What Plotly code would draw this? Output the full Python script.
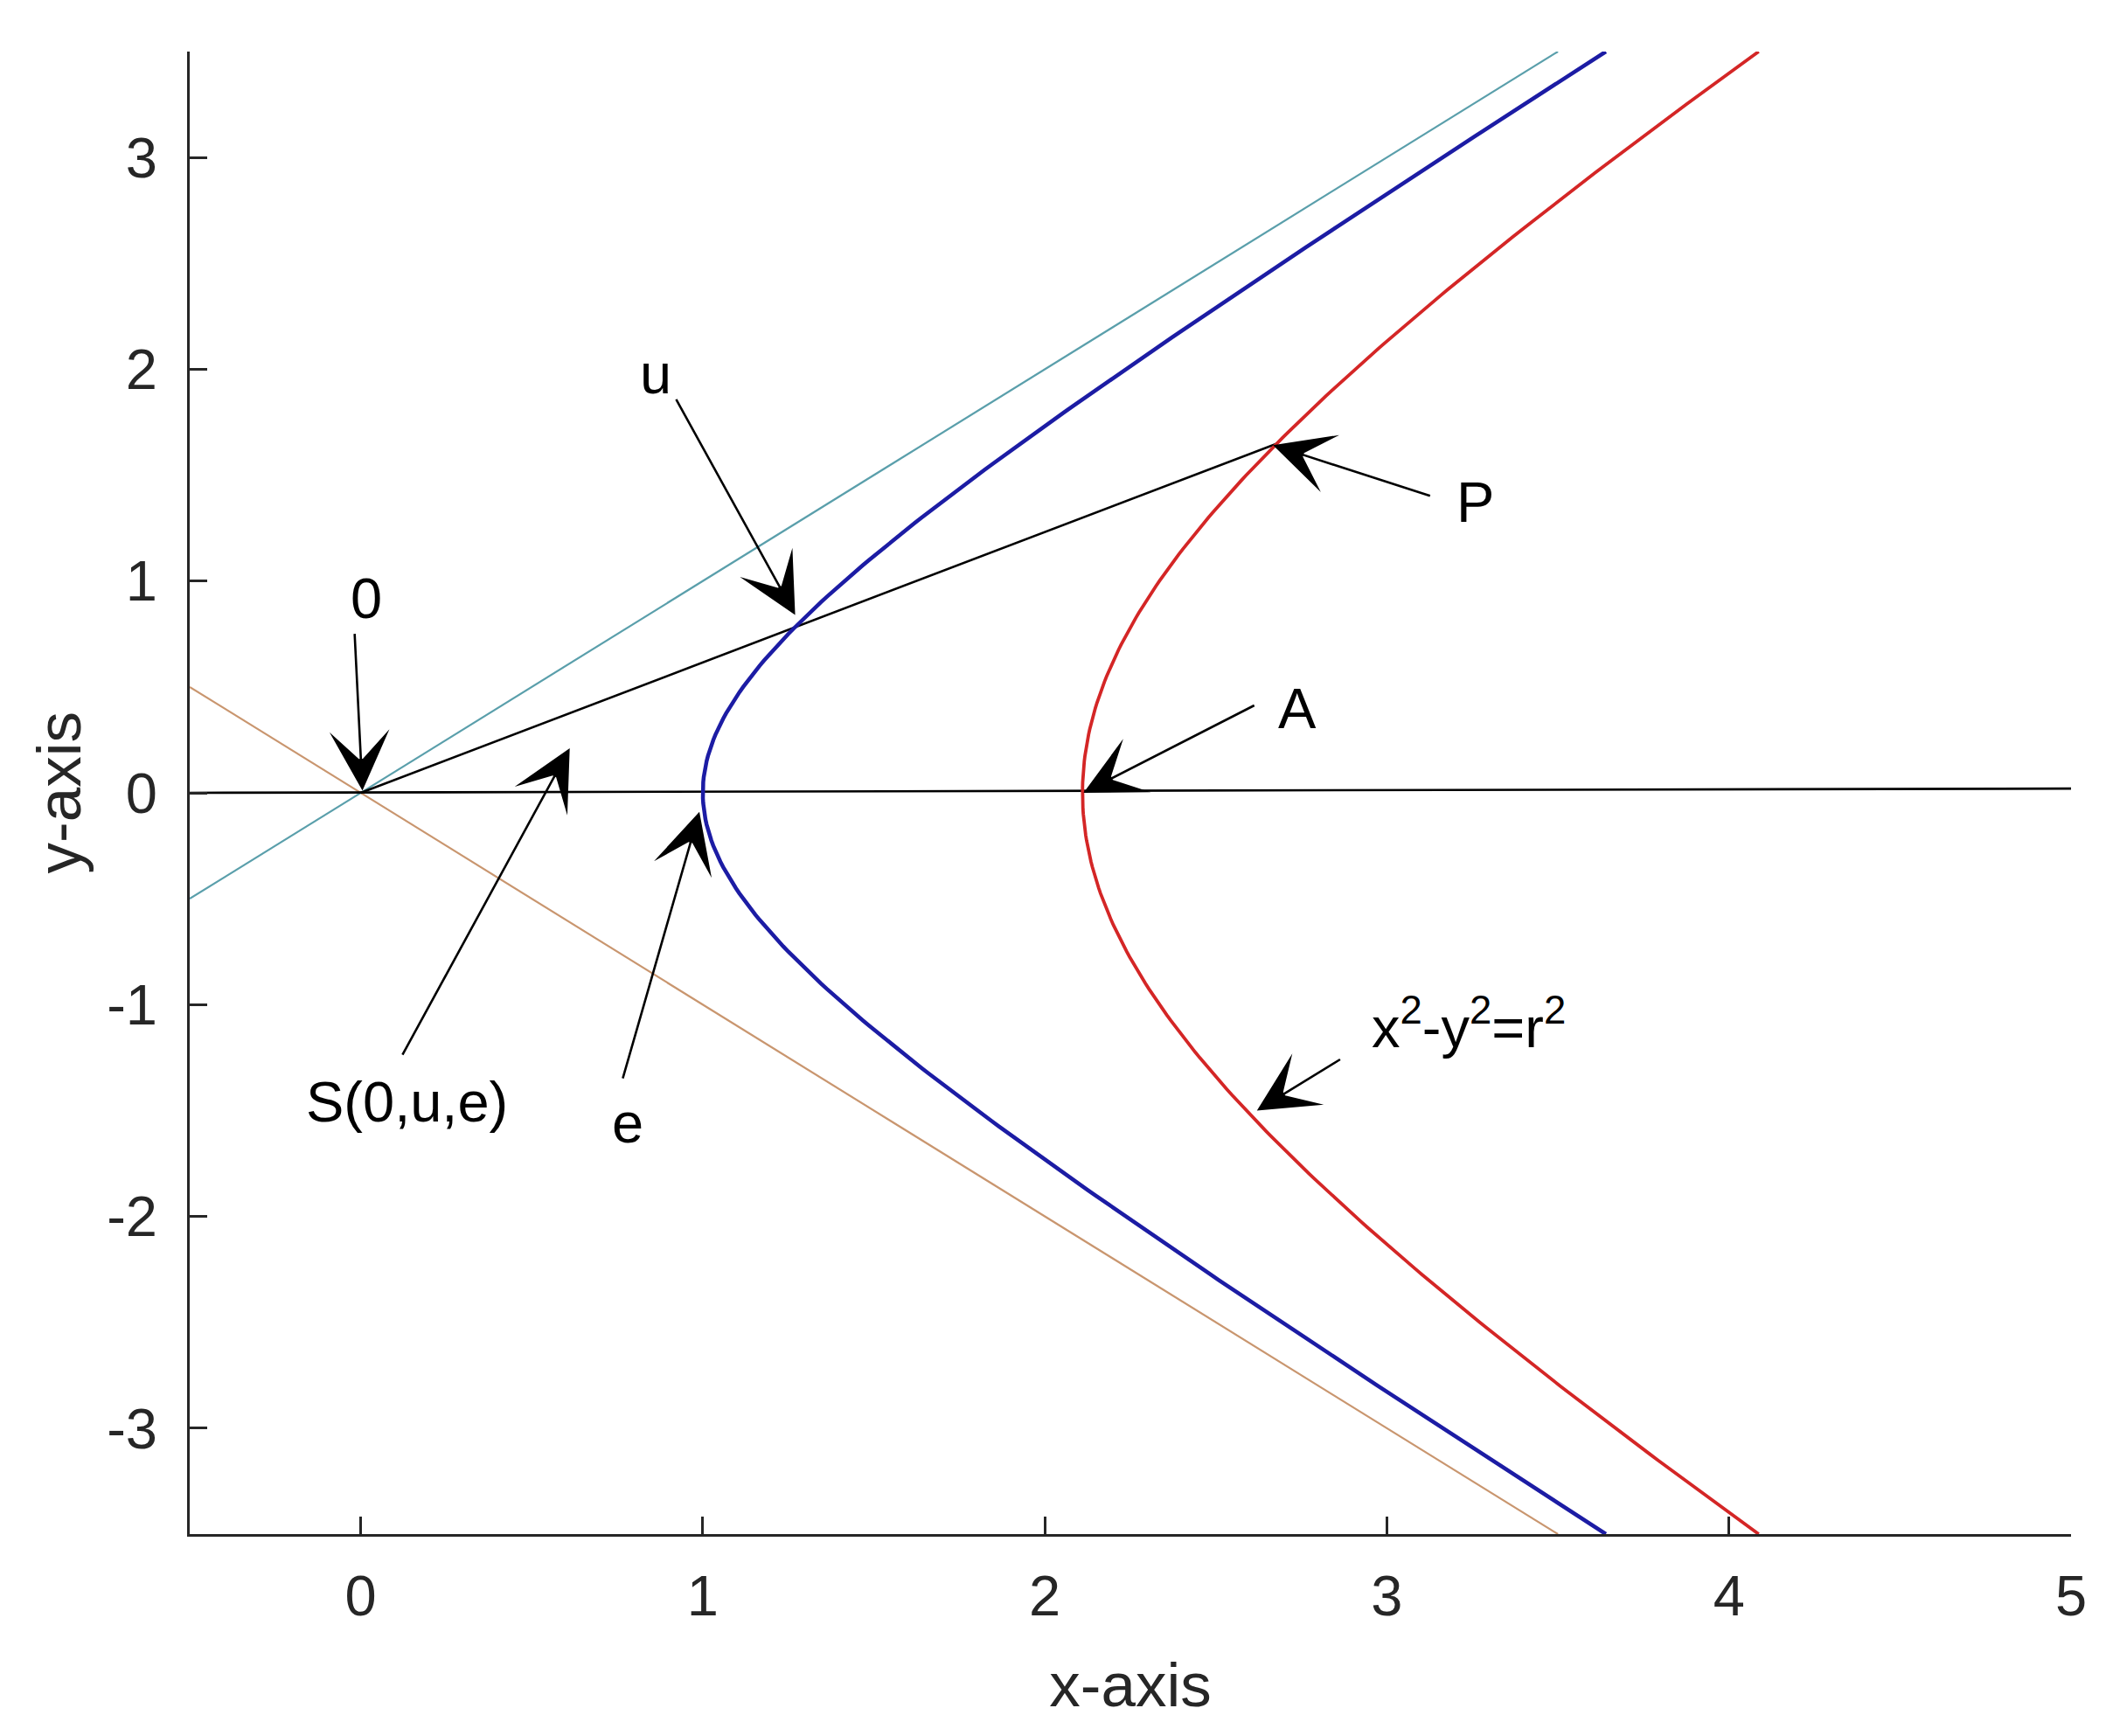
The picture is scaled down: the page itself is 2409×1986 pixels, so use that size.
import numpy as np
import plotly.graph_objects as go

# ---- data ----
radii = [1.0, 2.11]              # inner (blue) and outer (red) hyperbola, x^2 - y^2 = r^2
y_samples = list(np.linspace(-3.5, 3.5, 281))
asym_x = [-0.5, 3.5]
asym_up_y = [-0.5, 3.5]
asym_dn_y = [0.5, -3.5]
horiz_x = [-0.5, 5.0]
horiz_y = [0.0, 0.02]
ray_x = [0.0, 2.68]              # from S(0,u,e) to P
ray_y = [0.0, 1.65]

SUP = "<sup>2</sup>"
# label text, label position, arrow tail, arrow head
labels = ["0", "u", "P", "A", "S(0,u,e)", "e", "x" + SUP + "-y" + SUP + "=r" + SUP]
label_x = [0.015, 0.862, 3.258, 2.737, 0.136, 0.78, 3.238]
label_y = [0.92, 1.98, 1.374, 0.40, -1.457, -1.56, -1.09]
tail_x = [-0.018, 0.92, 3.13, 2.616, 0.12, 0.765, 2.867]
tail_y = [0.757, 1.864, 1.40, 0.416, -1.243, -1.354, -1.255]
head_x = [0.005, 1.27, 2.667, 2.113, 0.611, 0.99, 2.62]
head_y = [0.01, 0.84, 1.642, 0.0, 0.21, -0.09, -1.50]

xticks = [0, 1, 2, 3, 4, 5]
yticks = [-3, -2, -1, 0, 1, 2, 3]

FONT = "Liberation Sans, Arial, Helvetica, sans-serif"

fig = go.Figure()

fig.add_trace(go.Scatter(x=asym_x, y=asym_up_y, mode="lines",
                         line=dict(color="#5a9fab", width=2.2), showlegend=False))
fig.add_trace(go.Scatter(x=asym_x, y=asym_dn_y, mode="lines",
                         line=dict(color="#c9966f", width=2.2), showlegend=False))
fig.add_trace(go.Scatter(x=horiz_x, y=horiz_y, mode="lines",
                         line=dict(color="#000000", width=2.6), showlegend=False))
fig.add_trace(go.Scatter(x=ray_x, y=ray_y, mode="lines",
                         line=dict(color="#000000", width=2.6), showlegend=False))

curve_colors = ["#1c1ca4", "#d42626"]
curve_widths = [4.5, 3.8]
ys = np.array(y_samples)
for r, c, w in zip(radii, curve_colors, curve_widths):
    xs = np.sqrt(r ** 2 + ys ** 2)
    fig.add_trace(go.Scatter(x=xs, y=ys, mode="lines",
                             line=dict(color=c, width=w), showlegend=False))

annotations = []
for i, t in enumerate(labels):
    annotations.append(dict(x=label_x[i], y=label_y[i], xref="x", yref="y",
                            text=t, showarrow=False,
                            font=dict(family=FONT, size=65, color="#000000"),
                            xanchor="center", yanchor="middle"))
    annotations.append(dict(x=head_x[i], y=head_y[i], xref="x", yref="y",
                            ax=tail_x[i], ay=tail_y[i], axref="x", ayref="y",
                            text="", showarrow=True, arrowhead=3,
                            arrowsize=4.4, arrowwidth=2.6, arrowcolor="#000000",
                            standoff=0, startstandoff=0))

# y-axis title placed as a rotated paper annotation
annotations.append(dict(x=-0.0695, y=0.5, xref="paper", yref="paper",
                        text="y-axis", showarrow=False, textangle=-90,
                        font=dict(family=FONT, size=71, color="#262626"),
                        xanchor="center", yanchor="middle"))

fig.update_layout(
    width=2409, height=1986,
    margin=dict(l=209, r=48, t=51, b=239),
    paper_bgcolor="white", plot_bgcolor="white",
    annotations=annotations,
    font=dict(family=FONT, size=65, color="#262626"),
)
fig.update_xaxes(range=[-0.5, 5], tickvals=xticks, ticktext=[str(v) for v in xticks],
                 showline=True, linecolor="#262626", linewidth=3, mirror=False,
                 ticks="inside", ticklen=20, tickwidth=2.5, tickcolor="#262626",
                 showgrid=False, zeroline=False,
                 tickfont=dict(family=FONT, size=65, color="#262626"),
                 ticklabelstandoff=12,
                 title=dict(text="x-axis", font=dict(family=FONT, size=71, color="#262626"),
                            standoff=42))
fig.update_yaxes(range=[-3.5, 3.5], tickvals=yticks, ticktext=[str(v) for v in yticks],
                 showline=True, linecolor="#262626", linewidth=3, mirror=False,
                 ticks="inside", ticklen=20, tickwidth=2.5, tickcolor="#262626",
                 showgrid=False, zeroline=False,
                 tickfont=dict(family=FONT, size=65, color="#262626"),
                 ticklabelstandoff=21)

fig.write_html("out.html")
